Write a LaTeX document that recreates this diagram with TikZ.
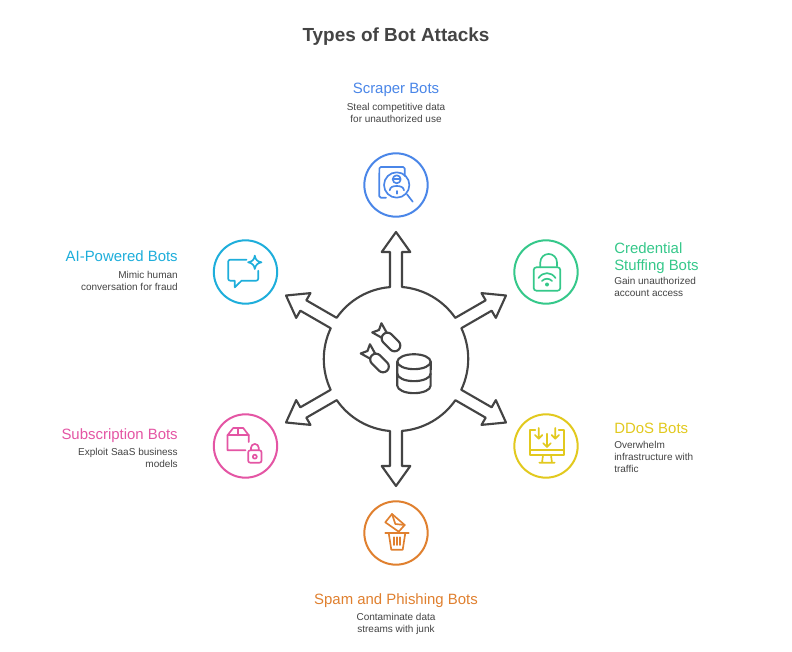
\documentclass[tikz,border=0pt]{standalone}
\usepackage{fontspec}
\setmainfont{Liberation Sans}
\definecolor{ink}{HTML}{444444}
\definecolor{cblue}{HTML}{4A86E8}
\definecolor{cgreen}{HTML}{35C88A}
\definecolor{cyellow}{HTML}{E2C91E}
\definecolor{corange}{HTML}{E0802F}
\definecolor{cpink}{HTML}{E455A4}
\definecolor{ccyan}{HTML}{1EAEDB}
\tikzset{
  hubline/.style={draw=ink,line width=1.6pt,line join=round,line cap=round},
  badge/.style={circle,draw,line width=1.5pt,minimum size=47.5pt,inner sep=0pt,fill=white},
  icon/.style={line width=1.25pt,line join=round,line cap=round},
  heading/.style={inner sep=0pt,font=\fontsize{11.2pt}{13.5pt}\selectfont},
  blurb/.style={inner sep=0pt,text=ink,font=\fontsize{7.5pt}{9pt}\selectfont},
}
\begin{document}
\begin{tikzpicture}[x=.75pt,y=-.75pt]
\useasboundingbox (0,0) rectangle (792,652);
\fill[white] (0,0) rectangle (792,652);
\node[inner sep=0pt,text=ink,anchor=base,font=\fontsize{14.2pt}{16pt}\selectfont\bfseries] (title) at (396,42) {Types of Bot Attacks};

% hub
\foreach \r in {0,60,...,300}{
  \begin{scope}[shift={(396,359)},rotate=\r]
    \draw[hubline] (-6,-72) -- (-6,-107) -- (-14.3,-107) -- (0,-127) -- (14.3,-107) -- (6,-107) -- (6,-72)
      arc[start angle=85.22,end angle=34.78,radius=54pt];
  \end{scope}
}
% database
\draw[hubline] (414,361.7) ellipse[x radius=12.5pt,y radius=5.6pt];
\draw[hubline] (397.3,361.7) -- (397.3,385.7) arc[start angle=180,end angle=360,x radius=12.5pt,y radius=5.6pt] -- (430.7,361.7);
\draw[hubline] (397.3,373.7) arc[start angle=180,end angle=360,x radius=12.5pt,y radius=5.6pt];
% bombs
\foreach \cx/\cy in {391/342,379.5/363}{
  \begin{scope}[shift={(\cx,\cy)},rotate=-45]
    \draw[hubline] (-5,-5.8) -- (5,-5.8) arc[start angle=90,end angle=-90,radius=4.35pt] -- (-5,5.8) arc[start angle=270,end angle=90,radius=4.35pt] -- cycle;
    \draw[hubline] (-9.5,-3.5) -- (-20,-6.5) -- (-17,0) -- (-20,6.5) -- (-9.5,3.5);
  \end{scope}
}

% badges
\node[badge,draw=cblue] (scraper) at (396,185) {};
\node[badge,draw=cgreen] (cred) at (546,272) {};
\node[badge,draw=cyellow] (ddos) at (546,446) {};
\node[badge,draw=corange] (spam) at (396,533) {};
\node[badge,draw=cpink] (sub) at (245.5,446) {};
\node[badge,draw=ccyan] (ai) at (245.5,272) {};

% scraper icon
\begin{scope}[shift={(396,185)},draw=cblue,icon]
  \draw (8.7,-9) -- (8.7,-16.5) arc[start angle=0,end angle=90,radius=1.1pt] -- (-15.2,-18) arc[start angle=90,end angle=180,radius=1.1pt] -- (-16.7,11.2) arc[start angle=180,end angle=270,radius=1.1pt] -- (-10,12.7);
  \draw (0.7,0) circle[radius=9.5pt];
  \draw (11,9.3) -- (16.7,16.7);
  \draw (0.7,-5.7) circle[radius=3pt];
  \draw (-2.3,-5.7) -- (3.7,-5.7);
  \draw (-6.3,5.3) .. controls (-6,2) and (-3,1) .. (0.7,1) .. controls (4.5,1) and (7.5,2) .. (8,5.3);
  \draw (0.7,6) -- (0.7,8.7);
\end{scope}
% lock wifi icon
\begin{scope}[shift={(546,272)},draw=cgreen,icon]
  \draw[rounded corners=2pt] (-12.3,-4.7) rectangle (14.3,18.7);
  \draw (-5.7,-4.7) -- (-5.7,-9.7) arc[start angle=180,end angle=0,radius=6.25pt] -- (11,-5.7);
  \draw (-7.5,6) .. controls (-3,-0.5) and (5,-0.5) .. (9.5,6);
  \draw (-4,9) .. controls (-1.5,6) and (3.5,6) .. (6,9);
  \fill[cgreen] (1,12.5) circle[radius=1.5pt];
\end{scope}
% ddos icon
\begin{scope}[shift={(546,446)},draw=cyellow,icon]
  \draw (-10.7,-15.7) -- (-15.7,-15.7) -- (-15.7,9.3) -- (17.7,9.3) -- (17.7,-15.7) -- (12.7,-15.7);
  \draw (-15.7,4.3) -- (17.7,4.3);
  \draw (-3,9.3) -- (-4,16.7) (5,9.3) -- (6,16.7) (-6.7,16.7) -- (8.7,16.7);
  \draw (-7.3,-18) -- (-7.3,-7.3) (-11,-11) -- (-7.3,-7.3) -- (-3.6,-11);
  \draw (1,-12.3) -- (1,1) (-2.7,-2.7) -- (1,1) -- (4.7,-2.7);
  \draw (9.3,-18) -- (9.3,-7.3) (5.6,-11) -- (9.3,-7.3) -- (13,-11);
\end{scope}
% trash icon
\begin{scope}[shift={(396,533)},draw=corange,icon]
  \draw (-10.7,0) -- (12.7,0);
  \draw (-7.3,0) -- (-4.7,16.7) -- (6.7,16.7) -- (9.3,0);
  \draw (-2.3,4.3) -- (-2.3,12) (1,4.3) -- (1,12) (4.3,4.3) -- (4.3,12);
  \draw (-10.7,-10.7) -- (-4,-19) -- (8.7,-8) -- (2.7,-1.3) -- cycle;
  \draw (-4,-19) -- (-0.7,-9) -- (8.7,-8);
\end{scope}
% subscription icon
\begin{scope}[shift={(245.5,446)},draw=cpink,icon]
  \draw (0,4.3) -- (-18,4.3) -- (-18,-10.7) -- (-12.3,-18) -- (-2.3,-18) -- (3.3,-10.7) -- (3.3,-4);
  \draw (-18,-10.7) -- (3.3,-10.7);
  \draw (-7.3,-18) -- (-7.3,-10.7);
  \draw[rounded corners=1.5pt] (2.7,4.3) rectangle (16,16.7);
  \draw (5.5,4.3) -- (5.5,1.8) arc[start angle=180,end angle=0,radius=2.9pt] -- (13.2,4.3);
  \draw (9.3,10.7) circle[radius=1.5pt];
\end{scope}
% ai icon
\begin{scope}[shift={(245.5,272)},draw=ccyan,icon]
  \draw (1,-12.3) -- (-15.3,-12.3) arc[start angle=90,end angle=180,radius=1.5pt] -- (-17.3,6.7) arc[start angle=180,end angle=270,radius=1.5pt] -- (-10.7,8.7) -- (-10.7,15.3) -- (-4,8.7) -- (10.7,8.7) arc[start angle=270,end angle=360,radius=1.5pt] -- (12.7,-1.3);
  \draw (9.3,-16.4) .. controls (10,-12) and (12,-10.4) .. (16,-9.7) .. controls (12,-9) and (10,-7) .. (9.3,-3) .. controls (8.6,-7) and (6.6,-9) .. (2.6,-9.7) .. controls (6.6,-10.4) and (8.6,-12) .. (9.3,-16.4) -- cycle;
\end{scope}

% labels
\node[heading,text=cblue,anchor=base] (t1) at (396,94) {Scraper Bots};
\node[blurb,anchor=base,align=center] (d1) at (396,123) {Steal competitive data\\for unauthorized use};
\node[heading,text=cgreen,anchor=base west] (t2) at (614,253) {Credential};
\node[heading,text=cgreen,anchor=base west] (t2b) at (614,271) {Stuffing Bots};
\node[blurb,anchor=base west,align=left] (d2) at (614,296.5) {Gain unauthorized\\account access};
\node[heading,text=cyellow,anchor=base west] (t3) at (614,433) {DDoS Bots};
\node[blurb,anchor=base west,align=left] (d3) at (614,472.5) {Overwhelm\\infrastructure with\\traffic};
\node[heading,text=corange,anchor=base] (t4) at (396,604) {Spam and Phishing Bots};
\node[blurb,anchor=base,align=center] (d4) at (396,632) {Contaminate data\\streams with junk};
\node[heading,text=cpink,anchor=base east] (t5) at (178,439) {Subscription Bots};
\node[blurb,anchor=base east,align=right] (d5) at (178,467) {Exploit SaaS business\\models};
\node[heading,text=ccyan,anchor=base east] (t6) at (178,262) {AI-Powered Bots};
\node[blurb,anchor=base east,align=right] (d6) at (178,290.5) {Mimic human\\conversation for fraud};
\end{tikzpicture}
\end{document}
